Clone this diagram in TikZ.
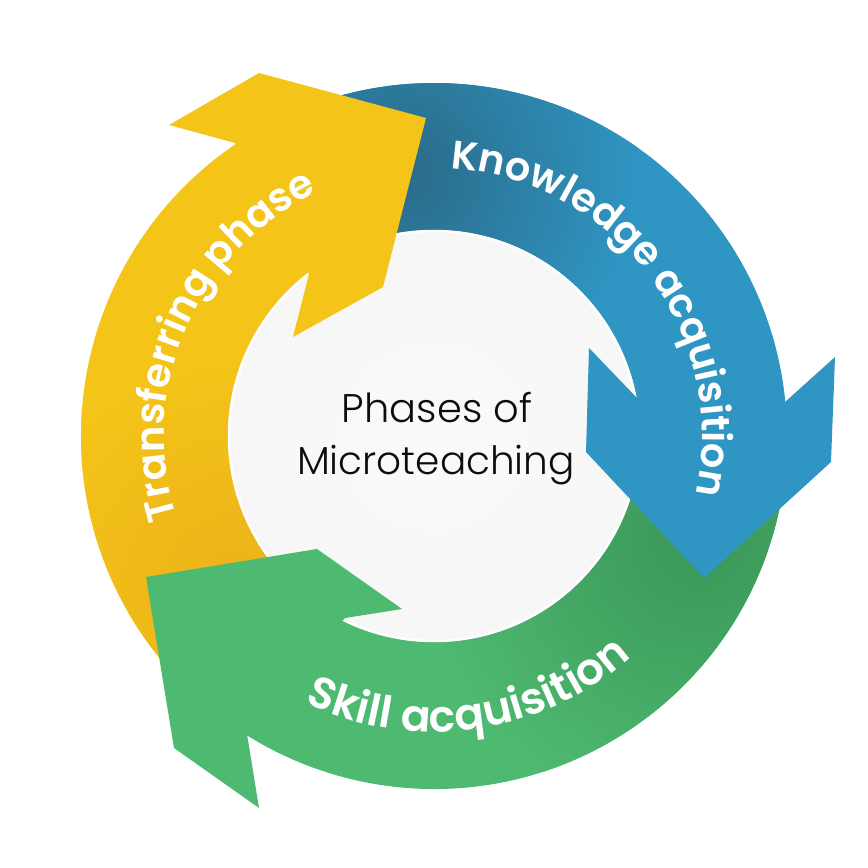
\documentclass[tikz,border=0pt]{standalone}
\usepackage{fontspec}
\setmainfont{Poppins}
\newfontfamily\semibfont{Poppins SemiBold}
\newfontfamily\lightfont{Poppins Light}
\usetikzlibrary{decorations.text}
\definecolor{ylw}{HTML}{F4C518}
\definecolor{ylwdark}{HTML}{EDB21A}
\definecolor{blu}{HTML}{2F95C2}
\definecolor{bludark}{HTML}{2A6A88}
\definecolor{grn}{HTML}{4EB970}
\definecolor{grndark}{HTML}{3A9658}
\definecolor{diskin}{HTML}{FAFAFA}
\definecolor{diskout}{HTML}{F0F0F0}
\pgfdeclareradialshading{diskshade}{\pgfpointorigin}{color(0bp)=(diskin); color(30bp)=(diskin!60!diskout); color(50bp)=(diskout)}
\newcommand{\lblfont}{\semibfont\fontsize{20}{24}\selectfont}
\newcommand{\lblfontb}{\semibfont\fontsize{22}{24}\selectfont}
\tikzset{
  lbl/.style={decorate, decoration={text along path, text color=white, text align=center}},
  centretext/.style={font=\lightfont\fontsize{20}{24}\selectfont, anchor=base, text=black!95, inner sep=0pt},
}
\begin{document}
\begin{tikzpicture}[x=0.5pt,y=0.5pt]
\useasboundingbox (0,0) rectangle (868,868);
\begin{scope}[shift={(434,432)}]
% ---- shafts ----
\fill[blu] (117:353) arc[start angle=117,end angle=2.5,radius=353] -- (7.9:205) arc[start angle=7.9,end angle=117,radius=205] -- cycle;
\begin{scope}
\clip (117:353) arc[start angle=117,end angle=2.5,radius=353] -- (7.9:205) arc[start angle=7.9,end angle=117,radius=205] -- cycle;
\shade[inner color=bludark, outer color=blu] (-34,266) circle (240);
\end{scope}
\fill[ylw] (225:353) arc[start angle=225,end angle=121.2,radius=353] -- (124.65:205) arc[start angle=124.65,end angle=225,radius=205] -- cycle;
\begin{scope}
\clip (225:353) arc[start angle=225,end angle=121.2,radius=353] -- (124.65:205) arc[start angle=124.65,end angle=225,radius=205] -- cycle;
\shade[inner color=ylwdark, outer color=ylw] (-194,-154) circle (240);
\end{scope}
\fill[grn] (-8:353) arc[start angle=-8,end angle=-125.1,radius=353] -- (-119.1:205) arc[start angle=-119.1,end angle=-8,radius=205] -- cycle;
\begin{scope}
\clip (-8:353) arc[start angle=-8,end angle=-125.1,radius=353] -- (-119.1:205) arc[start angle=-119.1,end angle=-8,radius=205] -- cycle;
\shade[inner color=grndark, outer color=grn] (266,-104) circle (280);
\end{scope}
% ---- centre disk ----
\shade[shading=diskshade] (0,0) circle (206);
\draw[white, line width=1.2pt] (0,0) circle (205);
% ---- heads ----
\fill[blu] (202,39) -- (155,88) -- (152,-16) -- (270,-142) -- (397,-26) -- (401,79) -- (351,34) -- cycle;
\fill[ylw] (-125,162) -- (-141,99) -- (-51,149) -- (-8,318) -- (-175,363) -- (-265,311) -- (-199,293) -- cycle;
\fill[grn] (-89,-182) -- (-32,-173) -- (-117,-113) -- (-288,-141) -- (-260,-312) -- (-175,-372) -- (-187,-298) -- cycle;
% ---- labels ----
\path[lbl, decoration={text={|\lblfont|Knowledge acquisition}}] (100:268) arc[start angle=100,end angle=-26,radius=268];
\path[lbl, decoration={text={|\lblfont|Transferring phase}}] (215:270) arc[start angle=215,end angle=98,radius=270];
\path[lbl, decoration={text={|\lblfontb|Skill acquisition}}] (236:296) arc[start angle=236,end angle=320,radius=296];
\node[centretext] (phases) at (3,13) {Phases of};
\node[centretext, font=\lightfont\fontsize{19.5}{24}\selectfont] (micro) at (2,-39) {Microteaching};
\end{scope}
\end{tikzpicture}
\end{document}
